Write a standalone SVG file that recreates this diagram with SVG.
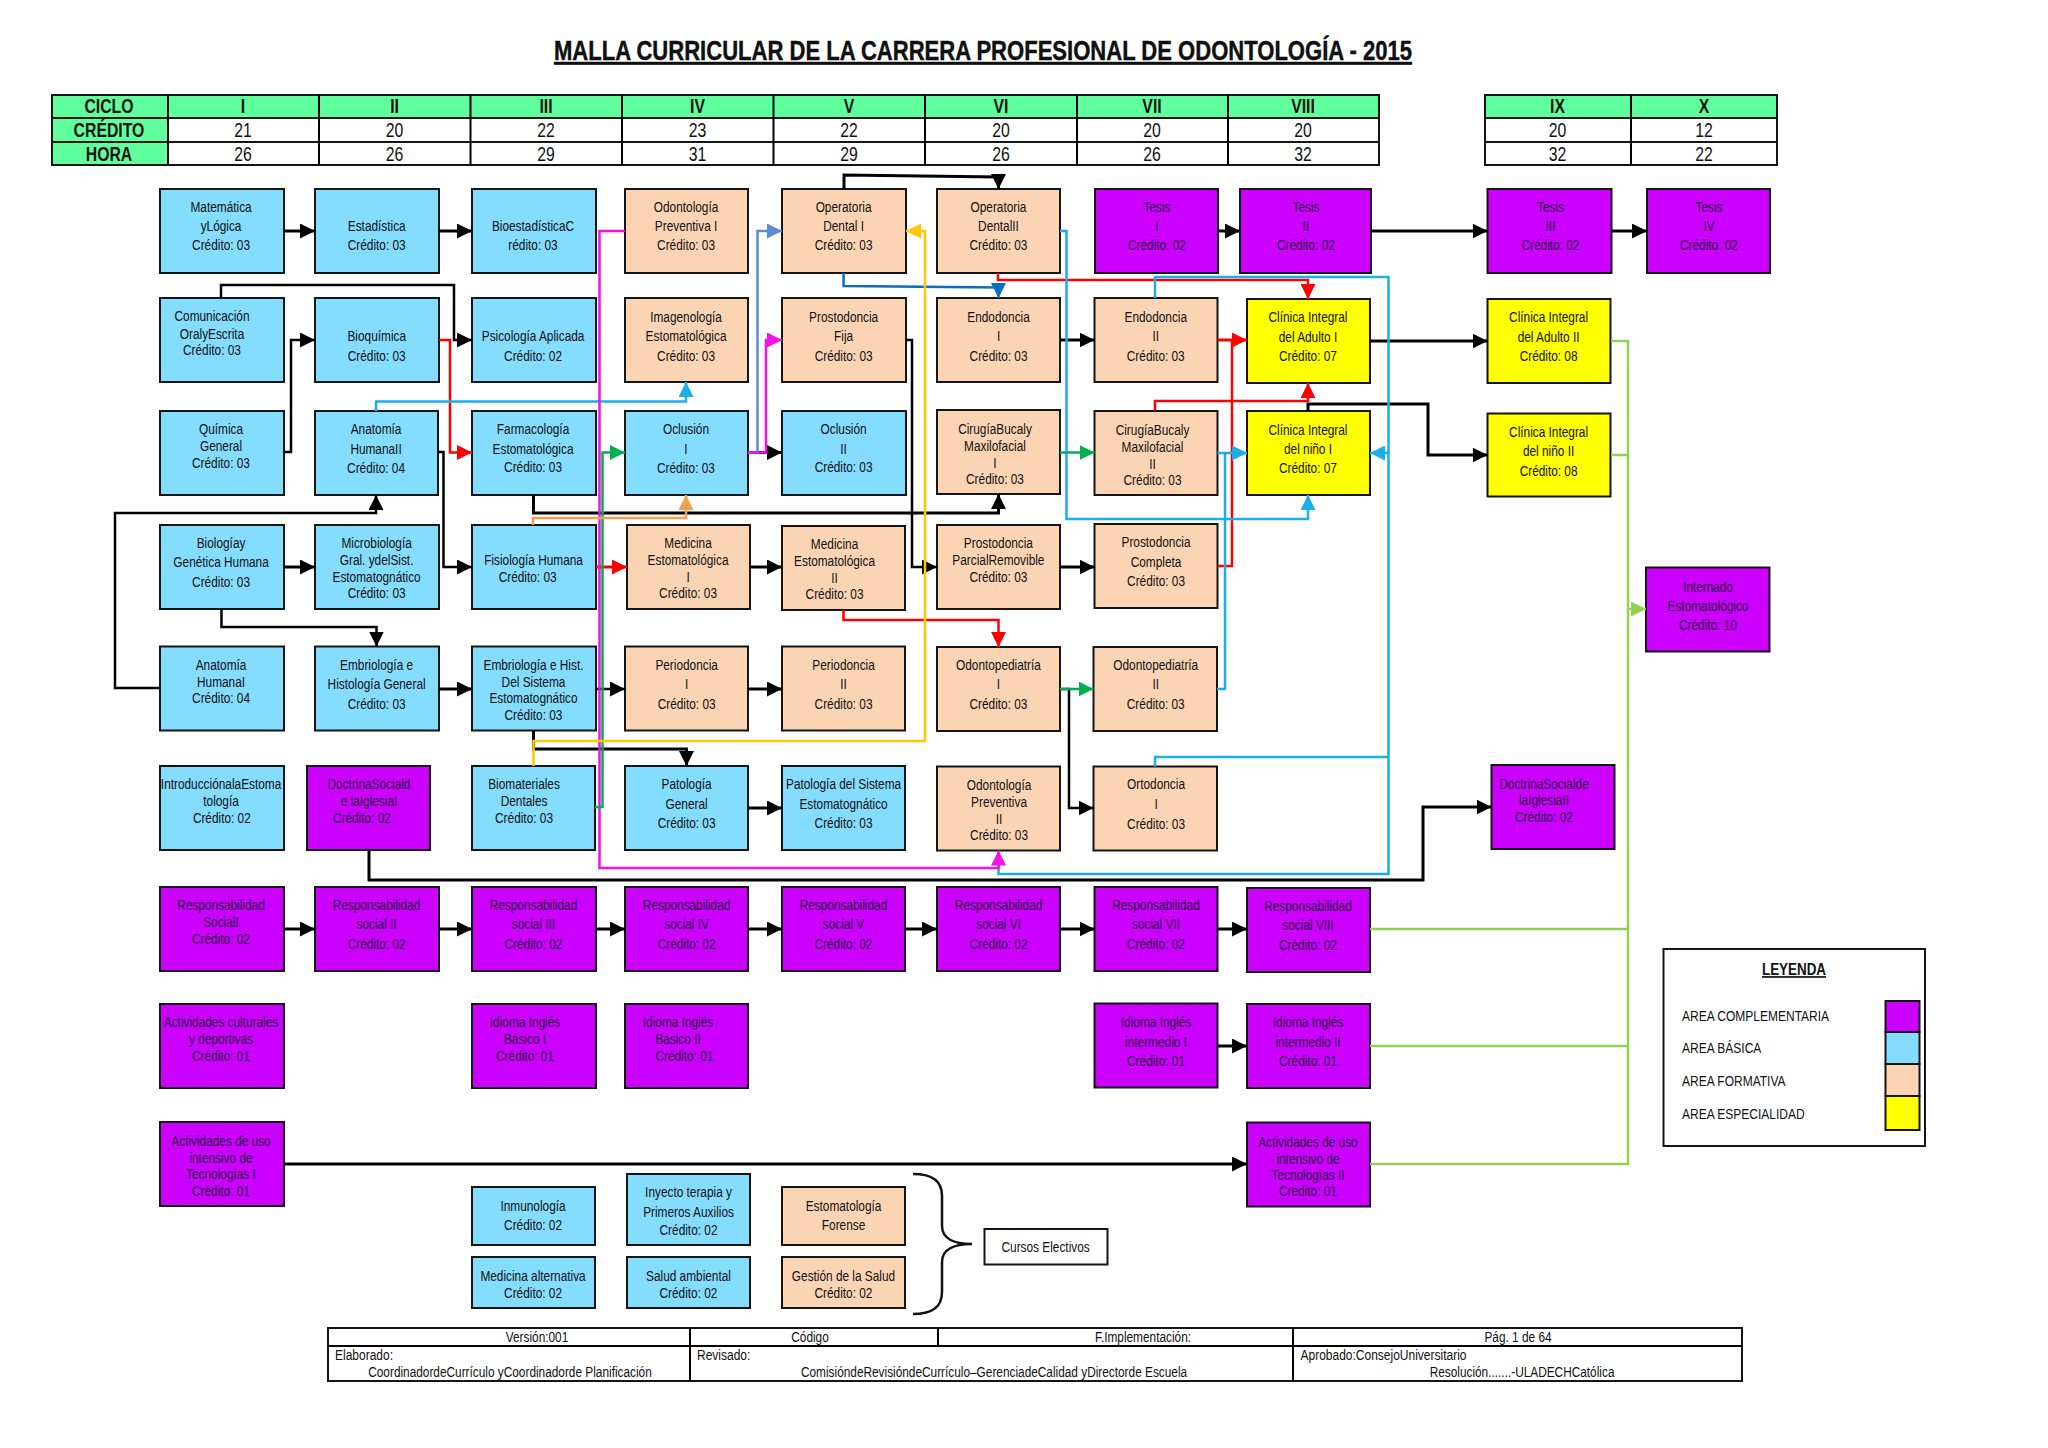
<svg xmlns="http://www.w3.org/2000/svg" width="2048" height="1448" viewBox="0 0 2048 1448">
<style>
text{font-family:"Liberation Sans",Arial,sans-serif;font-size:15px;fill:#111}
.t{text-anchor:middle;transform-box:fill-box;transform-origin:center;transform:scaleX(.79)}
.l{transform-box:fill-box;transform-origin:left center;transform:scaleX(.8)}
.h{font-size:20px}
.hb{font-size:20px;font-weight:bold}
.lg{font-size:17px;font-weight:bold;text-decoration:underline}
.pt{fill:#2a0a3a}
rect{stroke:#151515;stroke-width:2}
.a{fill:#CC00FF}.b{fill:#84DCFF}.c{fill:#FBD4B4}.d{fill:#FFFF00}.g{fill:#60FF9E}.w{fill:#fff}
path{fill:none;stroke-width:2.5;stroke-linejoin:miter}
.k{stroke:#000;marker-end:url(#mk)}.k0{stroke:#000}.kt{stroke:#000;stroke-width:3;marker-end:url(#mk)}
.r{stroke:#F00;marker-end:url(#mr)}.r0{stroke:#F00}
.s{stroke:#1AAEEB;marker-end:url(#ms)}.s0{stroke:#1AAEEB}
.n{stroke:#0A6EC0;marker-end:url(#mn)}
.m{stroke:#5B8AD6;marker-end:url(#mm)}
.p{stroke:#F012E6;marker-end:url(#mp)}
.e{stroke:#00B050;marker-end:url(#me)}
.o{stroke:#F0A050;marker-end:url(#mo)}
.y{stroke:#FFC800;marker-end:url(#my)}
.v{stroke:#92D050}.vh{stroke:#92D050;marker-end:url(#mv)}
.br{stroke:#111;stroke-width:2.5}
</style>
<defs>
<marker id="mk" markerUnits="userSpaceOnUse" markerWidth="15" markerHeight="15" refX="15" refY="7.500" orient="auto"><polygon points="0,0 15,7.500 0,15" fill="#000"/></marker>
<marker id="mr" markerUnits="userSpaceOnUse" markerWidth="15" markerHeight="15" refX="15" refY="7.500" orient="auto"><polygon points="0,0 15,7.500 0,15" fill="#F00"/></marker>
<marker id="ms" markerUnits="userSpaceOnUse" markerWidth="15" markerHeight="15" refX="15" refY="7.500" orient="auto"><polygon points="0,0 15,7.500 0,15" fill="#1AAEEB"/></marker>
<marker id="mn" markerUnits="userSpaceOnUse" markerWidth="15" markerHeight="15" refX="15" refY="7.500" orient="auto"><polygon points="0,0 15,7.500 0,15" fill="#0A6EC0"/></marker>
<marker id="mm" markerUnits="userSpaceOnUse" markerWidth="15" markerHeight="15" refX="15" refY="7.500" orient="auto"><polygon points="0,0 15,7.500 0,15" fill="#5B8AD6"/></marker>
<marker id="mp" markerUnits="userSpaceOnUse" markerWidth="15" markerHeight="15" refX="15" refY="7.500" orient="auto"><polygon points="0,0 15,7.500 0,15" fill="#F012E6"/></marker>
<marker id="me" markerUnits="userSpaceOnUse" markerWidth="15" markerHeight="15" refX="15" refY="7.500" orient="auto"><polygon points="0,0 15,7.500 0,15" fill="#00B050"/></marker>
<marker id="mo" markerUnits="userSpaceOnUse" markerWidth="15" markerHeight="15" refX="15" refY="7.500" orient="auto"><polygon points="0,0 15,7.500 0,15" fill="#F0A050"/></marker>
<marker id="my" markerUnits="userSpaceOnUse" markerWidth="15" markerHeight="15" refX="15" refY="7.500" orient="auto"><polygon points="0,0 15,7.500 0,15" fill="#FFC800"/></marker>
<marker id="mv" markerUnits="userSpaceOnUse" markerWidth="15" markerHeight="15" refX="15" refY="7.500" orient="auto"><polygon points="0,0 15,7.500 0,15" fill="#92D050"/></marker>
</defs>
<rect width="2048" height="1448" fill="#fff" style="stroke:none"/>
<text id="title" x="983" y="60" text-anchor="middle" font-weight="bold" text-decoration="underline" textLength="858" lengthAdjust="spacingAndGlyphs" style="font-size:27px;stroke:#000;stroke-width:.4">MALLA CURRICULAR DE LA CARRERA PROFESIONAL DE ODONTOLOGÍA - 2015</text>
<g id="tabla-ciclos">
<rect class="g" x="52" y="95" width="1327" height="23"/>
<rect class="g" x="52" y="118" width="116" height="24"/><rect class="g" x="52" y="142" width="116" height="23"/>
<rect class="w" x="168" y="118" width="1211" height="24"/><rect class="w" x="168" y="142" width="1211" height="23"/>
<rect class="g" x="1485" y="95" width="292" height="23"/><rect class="w" x="1485" y="118" width="292" height="24"/><rect class="w" x="1485" y="142" width="292" height="23"/>
<path class="k0" style="stroke-width:2" d="M168 95V165M319 95V165M470.500 95V165M622 95V165M773.500 95V165M925 95V165M1077 95V165M1228 95V165M1631 95V165"/>
<g class="th">
<text class="t hb" x="109" y="113.500">CICLO</text><text class="t hb" x="109" y="137">CRÉDITO</text><text class="t hb" x="109" y="161">HORA</text>
<text class="t hb" x="243" y="113.500">I</text><text class="t hb" x="394.600" y="113.500">II</text><text class="t hb" x="546" y="113.500">III</text><text class="t hb" x="697.500" y="113.500">IV</text><text class="t hb" x="849" y="113.500">V</text><text class="t hb" x="1001" y="113.500">VI</text><text class="t hb" x="1152" y="113.500">VII</text><text class="t hb" x="1303" y="113.500">VIII</text><text class="t hb" x="1557.500" y="113.500">IX</text><text class="t hb" x="1704" y="113.500">X</text>
<text class="t h" x="243" y="137">21</text><text class="t h" x="394.600" y="137">20</text><text class="t h" x="546" y="137">22</text><text class="t h" x="697.500" y="137">23</text><text class="t h" x="849" y="137">22</text><text class="t h" x="1001" y="137">20</text><text class="t h" x="1152" y="137">20</text><text class="t h" x="1303" y="137">20</text><text class="t h" x="1557.500" y="137">20</text><text class="t h" x="1704" y="137">12</text>
<text class="t h" x="243" y="161">26</text><text class="t h" x="394.600" y="161">26</text><text class="t h" x="546" y="161">29</text><text class="t h" x="697.500" y="161">31</text><text class="t h" x="849" y="161">29</text><text class="t h" x="1001" y="161">26</text><text class="t h" x="1152" y="161">26</text><text class="t h" x="1303" y="161">32</text><text class="t h" x="1557.500" y="161">32</text><text class="t h" x="1704" y="161">22</text>
</g>
</g>
<g id="nodos">
<g id="n-matematica"><rect class="b" x="160" y="189" width="124" height="84"/><text class="t" x="221"><tspan x="221" y="212">Matemática</tspan><tspan x="221" y="231">yLógica</tspan><tspan x="221" y="250">Crédito: 03</tspan></text></g>
<g id="n-estadistica"><rect class="b" x="315" y="189" width="124" height="84"/><text class="t"><tspan x="376.700" y="231">Estadística</tspan><tspan x="376.700" y="250">Crédito: 03</tspan></text></g>
<g id="n-bioestadistica"><rect class="b" x="472" y="189" width="124" height="84"/><text class="t"><tspan x="533" y="231">BioestadísticaC</tspan><tspan x="533" y="250">rédito: 03</tspan></text></g>
<g id="n-odontprev1"><rect class="c" x="625" y="189" width="123" height="84"/><text class="t"><tspan x="686" y="212">Odontología</tspan><tspan x="686" y="231">Preventiva I</tspan><tspan x="686" y="250">Crédito: 03</tspan></text></g>
<g id="n-operatoria1"><rect class="c" x="782" y="189" width="124" height="84"/><text class="t"><tspan x="843.600" y="212">Operatoria</tspan><tspan x="843.600" y="231">Dental I</tspan><tspan x="843.600" y="250">Crédito: 03</tspan></text></g>
<g id="n-operatoria2"><rect class="c" x="937" y="189" width="123" height="84"/><text class="t"><tspan x="998.500" y="212">Operatoria</tspan><tspan x="998.500" y="231">DentalII</tspan><tspan x="998.500" y="250">Crédito: 03</tspan></text></g>
<g id="n-tesis1"><rect class="a" x="1095" y="189" width="123" height="84"/><text class="t pt"><tspan x="1157" y="212">Tesis</tspan><tspan x="1157" y="231">I</tspan><tspan x="1157" y="250">Crédito: 02</tspan></text></g>
<g id="n-tesis2"><rect class="a" x="1240" y="189" width="131" height="84"/><text class="t pt"><tspan x="1306" y="212">Tesis</tspan><tspan x="1306" y="231">II</tspan><tspan x="1306" y="250">Crédito: 02</tspan></text></g>
<g id="n-tesis3"><rect class="a" x="1487.500" y="189" width="124" height="84"/><text class="t pt"><tspan x="1550.500" y="212">Tesis</tspan><tspan x="1550.500" y="231">III</tspan><tspan x="1550.500" y="250">Crédito: 02</tspan></text></g>
<g id="n-tesis4"><rect class="a" x="1647" y="189" width="123" height="84"/><text class="t pt"><tspan x="1709" y="212">Tesis</tspan><tspan x="1709" y="231">IV</tspan><tspan x="1709" y="250">Crédito: 02</tspan></text></g>

<g id="n-comunicacion"><rect class="b" x="160" y="298" width="124" height="84"/><text class="t"><tspan x="212" y="321.500">Comunicación</tspan><tspan x="212" y="339">OralyEscrita</tspan><tspan x="212" y="355.500">Crédito: 03</tspan></text></g>
<g id="n-bioquimica"><rect class="b" x="315" y="298" width="124" height="84"/><text class="t"><tspan x="376.700" y="341">Bioquímica</tspan><tspan x="376.700" y="361">Crédito: 03</tspan></text></g>
<g id="n-psicologia"><rect class="b" x="472" y="298" width="124" height="84"/><text class="t"><tspan x="533" y="341">Psicología Aplicada</tspan><tspan x="533" y="361">Crédito: 02</tspan></text></g>
<g id="n-imagenologia"><rect class="c" x="625" y="298" width="123" height="84"/><text class="t"><tspan x="686" y="322">Imagenología</tspan><tspan x="686" y="341">Estomatológica</tspan><tspan x="686" y="361">Crédito: 03</tspan></text></g>
<g id="n-prostofija"><rect class="c" x="782" y="298" width="124" height="84"/><text class="t"><tspan x="843.600" y="322">Prostodoncia</tspan><tspan x="843.600" y="341">Fija</tspan><tspan x="843.600" y="361">Crédito: 03</tspan></text></g>
<g id="n-endo1"><rect class="c" x="937" y="298" width="123" height="84"/><text class="t"><tspan x="998.500" y="322">Endodoncia</tspan><tspan x="998.500" y="341">I</tspan><tspan x="998.500" y="361">Crédito: 03</tspan></text></g>
<g id="n-endo2"><rect class="c" x="1094.500" y="298" width="123" height="84"/><text class="t"><tspan x="1155.700" y="322">Endodoncia</tspan><tspan x="1155.700" y="341">II</tspan><tspan x="1155.700" y="361">Crédito: 03</tspan></text></g>
<g id="n-clinadulto1"><rect class="d" x="1247" y="299" width="123" height="84"/><text class="t"><tspan x="1308" y="322">Clínica Integral</tspan><tspan x="1308" y="342">del Adulto I</tspan><tspan x="1308" y="361">Crédito: 07</tspan></text></g>
<g id="n-clinadulto2"><rect class="d" x="1487.500" y="299" width="123" height="84"/><text class="t"><tspan x="1548.600" y="322">Clínica Integral</tspan><tspan x="1548.600" y="342">del Adulto II</tspan><tspan x="1548.600" y="361">Crédito: 08</tspan></text></g>

<g id="n-quimica"><rect class="b" x="160" y="411" width="124" height="84"/><text class="t"><tspan x="221" y="434">Química</tspan><tspan x="221" y="451">General</tspan><tspan x="221" y="468">Crédito: 03</tspan></text></g>
<g id="n-anatomia2"><rect class="b" x="315" y="411" width="123" height="84"/><text class="t"><tspan x="376" y="434">Anatomía</tspan><tspan x="376" y="454">HumanaII</tspan><tspan x="376" y="473">Crédito: 04</tspan></text></g>
<g id="n-farmacologia"><rect class="b" x="472" y="411" width="124" height="84"/><text class="t"><tspan x="533" y="434">Farmacología</tspan><tspan x="533" y="454">Estomatológica</tspan><tspan x="533" y="472">Crédito: 03</tspan></text></g>
<g id="n-oclusion1"><rect class="b" x="625" y="411" width="123" height="84"/><text class="t"><tspan x="686" y="434">Oclusión</tspan><tspan x="686" y="454">I</tspan><tspan x="686" y="473">Crédito: 03</tspan></text></g>
<g id="n-oclusion2"><rect class="b" x="782" y="411" width="124" height="84"/><text class="t"><tspan x="843.600" y="434">Oclusión</tspan><tspan x="843.600" y="454">II</tspan><tspan x="843.600" y="472">Crédito: 03</tspan></text></g>
<g id="n-cirugia1"><rect class="c" x="937" y="410" width="123" height="84"/><text class="t"><tspan x="995" y="434">CirugíaBucaly</tspan><tspan x="995" y="451">Maxilofacial</tspan><tspan x="995" y="468">I</tspan><tspan x="995" y="484">Crédito: 03</tspan></text></g>
<g id="n-cirugia2"><rect class="c" x="1094.500" y="411" width="123" height="84"/><text class="t"><tspan x="1152.500" y="435">CirugíaBucaly</tspan><tspan x="1152.500" y="452">Maxilofacial</tspan><tspan x="1152.500" y="469">II</tspan><tspan x="1152.500" y="485">Crédito: 03</tspan></text></g>
<g id="n-clinnino1"><rect class="d" x="1247" y="411" width="123" height="84"/><text class="t"><tspan x="1308" y="435">Clínica Integral</tspan><tspan x="1308" y="454">del niño I</tspan><tspan x="1308" y="473">Crédito: 07</tspan></text></g>
<g id="n-clinnino2"><rect class="d" x="1487.500" y="413.500" width="123" height="83"/><text class="t"><tspan x="1548.600" y="437">Clínica Integral</tspan><tspan x="1548.600" y="456">del niño II</tspan><tspan x="1548.600" y="476">Crédito: 08</tspan></text></g>

<g id="n-biologia"><rect class="b" x="160" y="525" width="124" height="84"/><text class="t"><tspan x="221" y="548">Biologíay</tspan><tspan x="221" y="567">Genética Humana</tspan><tspan x="221" y="587">Crédito: 03</tspan></text></g>
<g id="n-microbiologia"><rect class="b" x="315" y="525" width="124" height="84"/><text class="t"><tspan x="376.600" y="548">Microbiología</tspan><tspan x="376.600" y="565">Gral. ydelSist.</tspan><tspan x="376.600" y="582">Estomatognático</tspan><tspan x="376.600" y="598">Crédito: 03</tspan></text></g>
<g id="n-fisiologia"><rect class="b" x="472" y="525" width="124" height="84"/><text class="t"><tspan x="533.500" y="565">Fisiología Humana</tspan><tspan x="526" y="582">Crédito: 03</tspan></text></g>
<g id="n-medicina1"><rect class="c" x="627" y="525" width="123" height="84"/><text class="t"><tspan x="688" y="548">Medicina</tspan><tspan x="688" y="565">Estomatológica</tspan><tspan x="688" y="582">I</tspan><tspan x="688" y="598">Crédito: 03</tspan></text></g>
<g id="n-medicina2"><rect class="c" x="782" y="526" width="123" height="84"/><text class="t"><tspan x="834.500" y="549">Medicina</tspan><tspan x="834.500" y="566">Estomatológica</tspan><tspan x="834.500" y="583">II</tspan><tspan x="834.500" y="599">Crédito: 03</tspan></text></g>
<g id="n-prostoparcial"><rect class="c" x="937" y="525" width="123" height="84"/><text class="t"><tspan x="998.400" y="548">Prostodoncia</tspan><tspan x="998.400" y="565">ParcialRemovible</tspan><tspan x="998.400" y="582">Crédito: 03</tspan></text></g>
<g id="n-prostocompleta"><rect class="c" x="1094.500" y="524" width="123" height="84"/><text class="t"><tspan x="1156" y="547">Prostodoncia</tspan><tspan x="1156" y="567">Completa</tspan><tspan x="1156" y="586">Crédito: 03</tspan></text></g>

<g id="n-anatomia1"><rect class="b" x="160" y="646.500" width="124" height="84"/><text class="t"><tspan x="221" y="670">Anatomía</tspan><tspan x="221" y="687">HumanaI</tspan><tspan x="221" y="703">Crédito: 04</tspan></text></g>
<g id="n-embriologia"><rect class="b" x="315" y="646.500" width="124" height="84"/><text class="t"><tspan x="376.600" y="670">Embriología e</tspan><tspan x="376.600" y="689">Histología General</tspan><tspan x="376.600" y="709">Crédito: 03</tspan></text></g>
<g id="n-embriohist"><rect class="b" x="472" y="646.500" width="124" height="84"/><text class="t"><tspan x="533.500" y="670">Embriología e Hist.</tspan><tspan x="533.500" y="687">Del Sistema</tspan><tspan x="533.500" y="703">Estomatognático</tspan><tspan x="533.500" y="720">Crédito: 03</tspan></text></g>
<g id="n-periodoncia1"><rect class="c" x="625" y="646.500" width="123" height="84"/><text class="t"><tspan x="686.600" y="670">Periodoncia</tspan><tspan x="686.600" y="689">I</tspan><tspan x="686.600" y="709">Crédito: 03</tspan></text></g>
<g id="n-periodoncia2"><rect class="c" x="782" y="646.500" width="123" height="84"/><text class="t"><tspan x="843.500" y="670">Periodoncia</tspan><tspan x="843.500" y="689">II</tspan><tspan x="843.500" y="709">Crédito: 03</tspan></text></g>
<g id="n-odontoped1"><rect class="c" x="937" y="647" width="123" height="84"/><text class="t"><tspan x="998.400" y="670">Odontopediatría</tspan><tspan x="998.400" y="689">I</tspan><tspan x="998.400" y="709">Crédito: 03</tspan></text></g>
<g id="n-odontoped2"><rect class="c" x="1093.500" y="647" width="123.500" height="84"/><text class="t"><tspan x="1155.700" y="670">Odontopediatría</tspan><tspan x="1155.700" y="689">II</tspan><tspan x="1155.700" y="709">Crédito: 03</tspan></text></g>

<g id="filas-inferiores" transform="translate(0 1)">
<g id="n-introduccion"><rect class="b" x="160" y="765" width="124" height="84"/><text class="t"><tspan x="221" y="788">IntroducciónalaEstoma</tspan><tspan x="221" y="805">tología</tspan><tspan x="222" y="822">Crédito: 02</tspan></text></g>
<g id="n-doctrina1"><rect class="a" x="307" y="765" width="123" height="84"/><text class="t pt"><tspan x="369" y="788">DoctrinaSociald</tspan><tspan x="369" y="805">e laIglesiaI</tspan><tspan x="360" y="822">Crédito: 02</tspan></text></g>
<g id="n-biomateriales"><rect class="b" x="472" y="765" width="123" height="84"/><text class="t"><tspan x="524" y="788">Biomateriales</tspan><tspan x="524" y="805">Dentales</tspan><tspan x="524" y="822">Crédito: 03</tspan></text></g>
<g id="n-patologia"><rect class="b" x="625" y="765" width="123" height="84"/><text class="t"><tspan x="686.600" y="788">Patología</tspan><tspan x="686.600" y="808">General</tspan><tspan x="686.600" y="827">Crédito: 03</tspan></text></g>
<g id="n-patologiasist"><rect class="b" x="782" y="765" width="123" height="84"/><text class="t"><tspan x="843.500" y="788">Patología del Sistema</tspan><tspan x="843.500" y="808">Estomatognático</tspan><tspan x="843.500" y="827">Crédito: 03</tspan></text></g>
<g id="n-odontprev2"><rect class="c" x="937" y="765.500" width="123" height="84"/><text class="t"><tspan x="999" y="789">Odontología</tspan><tspan x="999" y="806">Preventiva</tspan><tspan x="999" y="823">II</tspan><tspan x="999" y="839">Crédito: 03</tspan></text></g>
<g id="n-ortodoncia"><rect class="c" x="1093.500" y="765.500" width="123.500" height="84"/><text class="t"><tspan x="1156" y="788">Ortodoncia</tspan><tspan x="1156" y="808">I</tspan><tspan x="1156" y="828">Crédito: 03</tspan></text></g>
<g id="n-doctrina2"><rect class="a" x="1491.500" y="764" width="123" height="84"/><text class="t pt"><tspan x="1544" y="788">DoctrinaSocialde</tspan><tspan x="1544" y="804">laIglesiaII</tspan><tspan x="1544" y="821">Crédito: 02</tspan></text></g>
<g id="n-internado"><rect class="a" x="1646" y="566.500" width="123.500" height="84"/><text class="t pt"><tspan x="1708" y="591">Internado</tspan><tspan x="1708" y="610">Estomatológico</tspan><tspan x="1708" y="629">Crédito: 10</tspan></text></g>

<g id="n-resp1"><rect class="a" x="160" y="886" width="124" height="84"/><text class="t pt"><tspan x="221" y="909">Responsabilidad</tspan><tspan x="221" y="926">SocialI</tspan><tspan x="221" y="943">Crédito: 02</tspan></text></g>
<g id="n-resp2"><rect class="a" x="315" y="886" width="124" height="84"/><text class="t pt"><tspan x="376.600" y="909">Responsabilidad</tspan><tspan x="376.600" y="928">social II</tspan><tspan x="376.600" y="948">Crédito: 02</tspan></text></g>
<g id="n-resp3"><rect class="a" x="472" y="886" width="124" height="84"/><text class="t pt"><tspan x="533.500" y="909">Responsabilidad</tspan><tspan x="533.500" y="928">social III</tspan><tspan x="533.500" y="948">Crédito: 02</tspan></text></g>
<g id="n-resp4"><rect class="a" x="625" y="886" width="123" height="84"/><text class="t pt"><tspan x="686.600" y="909">Responsabilidad</tspan><tspan x="686.600" y="928">social IV</tspan><tspan x="686.600" y="948">Crédito: 02</tspan></text></g>
<g id="n-resp5"><rect class="a" x="782" y="886" width="123" height="84"/><text class="t pt"><tspan x="843.500" y="909">Responsabilidad</tspan><tspan x="843.500" y="928">social V</tspan><tspan x="843.500" y="948">Crédito: 02</tspan></text></g>
<g id="n-resp6"><rect class="a" x="937" y="886" width="123" height="84"/><text class="t pt"><tspan x="998.600" y="909">Responsabilidad</tspan><tspan x="998.600" y="928">social VI</tspan><tspan x="998.600" y="948">Crédito: 02</tspan></text></g>
<g id="n-resp7"><rect class="a" x="1094.500" y="886" width="123" height="84"/><text class="t pt"><tspan x="1156" y="909">Responsabilidad</tspan><tspan x="1156" y="928">social VII</tspan><tspan x="1156" y="948">Crédito: 02</tspan></text></g>
<g id="n-resp8"><rect class="a" x="1247" y="887" width="123" height="84"/><text class="t pt"><tspan x="1308" y="910">Responsabilidad</tspan><tspan x="1308" y="929">social VIII</tspan><tspan x="1308" y="949">Crédito: 02</tspan></text></g>

<g id="n-cultura"><rect class="a" x="160" y="1003" width="124" height="84"/><text class="t pt"><tspan x="221" y="1026">Actividades culturales</tspan><tspan x="221" y="1043">y deportivas</tspan><tspan x="221" y="1060">Crédito: 01</tspan></text></g>
<g id="n-ingles1"><rect class="a" x="472" y="1003" width="124" height="84"/><text class="t pt"><tspan x="525" y="1026">Idioma Inglés</tspan><tspan x="525" y="1043">Básico I</tspan><tspan x="525" y="1060">Crédito: 01</tspan></text></g>
<g id="n-ingles2"><rect class="a" x="625" y="1003" width="123" height="84"/><text class="t pt"><tspan x="678" y="1026">Idioma Inglés</tspan><tspan x="678" y="1043">Básico II</tspan><tspan x="686" y="1060">Crédito: 01</tspan></text></g>
<g id="n-ingles3"><rect class="a" x="1094.500" y="1002.500" width="123" height="84"/><text class="t pt"><tspan x="1156" y="1026">Idioma Inglés</tspan><tspan x="1156" y="1046">intermedio I</tspan><tspan x="1156" y="1065">Crédito: 01</tspan></text></g>
<g id="n-ingles4"><rect class="a" x="1247" y="1003" width="123" height="84"/><text class="t pt"><tspan x="1308" y="1026">Idioma Inglés</tspan><tspan x="1308" y="1046">intermedio II</tspan><tspan x="1308" y="1065">Crédito: 01</tspan></text></g>

<g id="n-tic1"><rect class="a" x="160" y="1121" width="124" height="84"/><text class="t pt"><tspan x="221" y="1145">Actividades de uso</tspan><tspan x="221" y="1162">intensivo de</tspan><tspan x="221" y="1178">Tecnologías I</tspan><tspan x="221" y="1195">Crédito: 01</tspan></text></g>
<g id="n-tic2"><rect class="a" x="1247" y="1121.500" width="123" height="84"/><text class="t pt"><tspan x="1308" y="1146">Actividades de uso</tspan><tspan x="1308" y="1163">intensivo de</tspan><tspan x="1308" y="1179">Tecnologías II</tspan><tspan x="1308" y="1195">Crédito: 01</tspan></text></g>

<g id="n-inmunologia"><rect class="b" x="472" y="1186" width="123" height="58"/><text class="t"><tspan x="533" y="1210">Inmunología</tspan><tspan x="533" y="1229">Crédito: 02</tspan></text></g>
<g id="n-inyecto"><rect class="b" x="627" y="1173" width="123" height="71"/><text class="t"><tspan x="688.500" y="1196">Inyecto terapia y</tspan><tspan x="688.500" y="1216">Primeros Auxilios</tspan><tspan x="688.500" y="1234">Crédito: 02</tspan></text></g>
<g id="n-forense"><rect class="c" x="782" y="1186" width="123" height="58"/><text class="t"><tspan x="843.500" y="1210">Estomatología</tspan><tspan x="843.500" y="1229">Forense</tspan></text></g>
<g id="n-alternativa"><rect class="b" x="472" y="1256" width="123" height="51"/><text class="t"><tspan x="533" y="1280">Medicina alternativa</tspan><tspan x="533" y="1297">Crédito: 02</tspan></text></g>
<g id="n-ambiental"><rect class="b" x="627" y="1256" width="123" height="51"/><text class="t"><tspan x="688.500" y="1280">Salud ambiental</tspan><tspan x="688.500" y="1297">Crédito: 02</tspan></text></g>
<g id="n-gestion"><rect class="c" x="782" y="1256" width="123" height="51"/><text class="t"><tspan x="843.500" y="1280">Gestión de la Salud</tspan><tspan x="843.500" y="1297">Crédito: 02</tspan></text></g>
<g id="n-electivos"><rect class="w" x="984.500" y="1228" width="123" height="35.500"/><text class="t" x="1045.600" y="1251">Cursos Electivos</text></g>
</g>
</g>
<g id="conectores">
<path class="kt" d="M284 231H315"/><path class="kt" d="M439 231H472"/>
<path class="k" style="stroke-width:3" d="M844 189V175L998.500 177V189"/>
<path class="kt" d="M1218 231H1240"/><path class="kt" d="M1371 231H1487.500"/><path class="kt" d="M1611.500 231H1647"/>
<path class="k" d="M221 298V285H454V340H472"/>
<path class="k" d="M284 452H291V340H315"/>
<path class="k" d="M438 452H443.500V567H472"/>
<path class="kt" d="M284 567H315"/>
<path class="kt" d="M750 567H782"/>
<path class="k" d="M906 340H912V567H937"/>
<path class="kt" d="M1060 567H1094.500"/>
<path class="k" d="M160 688H115V513H376V495"/>
<path class="k" style="stroke-width:3" d="M533.500 495V513H998.500V494"/>
<path class="k" d="M221.500 609V627H376.500V646.500"/>
<path class="kt" d="M439 689H472"/><path class="k" d="M596 689H625"/><path class="kt" d="M748 689H782"/>
<path class="k" d="M1060 689H1069V808H1093.500"/>
<path class="k" style="stroke-width:3" d="M533.500 731V749H686.500V766"/>
<path class="kt" d="M748 808H782"/>
<path class="k" style="stroke-width:3" d="M369 850V880H1423V807H1491.500"/>
<path class="kt" d="M284 929H315"/><path class="kt" d="M439 929H472"/><path class="kt" d="M596 929H625"/><path class="kt" d="M748 929H782"/><path class="kt" d="M905 929H937"/><path class="kt" d="M1060 929H1094.500"/><path class="kt" d="M1217.500 929H1247"/>
<path class="kt" d="M1217.500 1046H1247"/>
<path class="k" style="stroke-width:3" d="M284 1164H1247"/>
<path class="kt" d="M1060 340H1094.500"/><path class="kt" d="M1370 341H1487.500"/>
<path class="k" style="stroke-width:3" d="M1308 411V404H1428V455H1487.500"/>
<path class="kt" d="M748 452.500H782"/>

<path class="r" d="M439 340H450V452.500H472"/>
<path class="r" style="stroke-width:3" d="M596 567H627"/>
<path class="r" d="M843.500 610V620H998.500V647"/>
<path class="r" d="M998 273V280H1308V299"/>
<path class="r" d="M1155 411V401H1308V383"/>
<path class="r" style="stroke-width:3" d="M1217.500 340H1247"/>
<path class="r0" d="M1217.500 566H1232V340"/>

<path class="s" d="M376 411V401.500H686V382"/>
<path class="s" d="M1060 231H1066.500V519H1308V495"/>
<path class="s0" d="M1155 298V277H1388.500V874H998.500V861"/>
<path class="s" d="M1388.500 453H1370"/>
<path class="s0" d="M1155 766.500V757H1388.500"/>
<path class="s0" d="M1217 689H1225V453"/>
<path class="s" d="M1217.500 453H1247"/>
<path class="n" d="M843.600 273V286L998.500 287.500V298"/>
<path class="m" d="M748 452.500H757.500V231H782"/>
<path class="p" d="M748 452.500H766V340H782"/>
<path class="p" d="M625 231H599.500V868H998.500V850.500"/>
<path class="e" d="M595 807H602.500V452.500H625"/>
<path class="e" d="M1060 452.500H1094.500"/>
<path class="e" d="M1060 689H1093.500"/>
<path class="o" d="M533 525V518H686V495"/>
<path class="y" d="M533.500 766V741H925V231H906"/>
<path class="v" d="M1611 341H1628V1164H1370"/>
<path class="v" d="M1611 455H1628"/>
<path class="v" d="M1370 929H1628"/>
<path class="v" d="M1370 1046H1628"/>
<path class="vh" d="M1628 609H1646"/>
<path class="br" d="M913 1174C930 1174 942 1179 942 1196V1226C942 1239 955 1244 972 1244C955 1244 942 1249 942 1262V1292C942 1309 930 1314 913 1314"/>
</g>
<g id="leyenda" transform="translate(0 1)">
<rect class="w" x="1663.500" y="948" width="261.500" height="197"/>
<text class="t lg" x="1794" y="974">LEYENDA</text>
<text class="l" x="1682" y="1020">AREA COMPLEMENTARIA</text>
<text class="l" x="1682" y="1052">AREA BÁSICA</text>
<text class="l" x="1682" y="1085">AREA FORMATIVA</text>
<text class="l" x="1682" y="1118">AREA ESPECIALIDAD</text>
<rect class="a" x="1885.500" y="1000" width="34" height="31"/><rect class="b" x="1885.500" y="1031" width="34" height="32"/><rect class="c" x="1885.500" y="1063" width="34" height="32"/><rect class="d" x="1885.500" y="1095" width="34" height="34"/>
</g>
<g id="pie" transform="translate(0 1)">
<rect class="w" x="328" y="1327" width="1414" height="53"/>
<path class="k0" style="stroke-width:2" d="M328 1345H1742M690 1327V1380M938 1327V1345M1293 1327V1380"/>
<text class="t" x="537" y="1341">Versión:001</text><text class="t" x="810" y="1341">Código</text><text class="t" x="1143" y="1341">F.Implementación:</text><text class="t" x="1518" y="1341">Pág. 1 de 64</text>
<text class="l" x="335" y="1359">Elaborado:</text><text class="t" x="510" y="1376">CoordinadordeCurrículo yCoordinadorde Planificación</text>
<text class="l" x="697" y="1359">Revisado:</text><text class="t" x="994" y="1376">ComisióndeRevisióndeCurrículo–GerenciadeCalidad yDirectorde Escuela</text>
<text class="l" x="1300.500" y="1359">Aprobado:ConsejoUniversitario</text><text class="t" x="1522" y="1376">Resolución.......-ULADECHCatólica</text>
</g>
</svg>
